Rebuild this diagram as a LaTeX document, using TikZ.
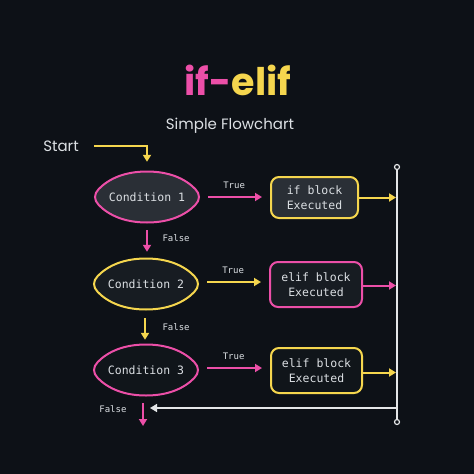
\documentclass[tikz,border=0pt]{standalone}
\usepackage{fontspec}
\setmainfont{Poppins}
\newfontfamily\monof{DejaVu Sans Mono}
\usetikzlibrary{arrows.meta,backgrounds}
\definecolor{bg}{HTML}{0D1117}
\definecolor{pk}{HTML}{EC4FA8}
\definecolor{yl}{HTML}{F5D64E}
\definecolor{tx}{HTML}{DCE0E4}
\definecolor{ln}{HTML}{E4E6E8}
\definecolor{fA}{HTML}{2A2F36}
\definecolor{fB}{HTML}{171C22}
\definecolor{fC}{HTML}{10151A}
\begin{document}
\begin{tikzpicture}[x=1pt,y=-1pt,
  conn/.style={line width=2pt,-{Triangle[length=7pt,width=8pt]}},
  cond/.style={minimum width=102pt,minimum height=50pt,inner sep=0pt,
    font=\monof\fontsize{11.5}{13}\selectfont,text=tx},
  hexs/.style={line width=2pt},
  blk/.style={draw,line width=2pt,rounded corners=8pt,align=center,inner sep=0pt,
    font=\monof\fontsize{11.5}{15}\selectfont,text=tx},
  lab/.style={font=\monof\fontsize{9}{10}\selectfont,text=tx},
  dot/.style={circle,draw=ln,fill=bg,line width=1.2pt,minimum size=5pt,inner sep=0pt}]
\begin{scope}[on background layer]
\fill[bg] (0,0) rectangle (474,474);
\end{scope}
\useasboundingbox (0,0) rectangle (474,474);

% title
\node[font=\bfseries\fontsize{38}{40}\selectfont] (title) at (238,80)
  {\textcolor{pk}{if-}\textcolor{yl}{elif}};
\node[font=\fontsize{15}{17}\selectfont,text=tx] (sub) at (230,126) {Simple Flowchart};
\node[font=\fontsize{15}{17}\selectfont,text=tx] (start) at (61,146) {Start};

% conditions
\node[cond] (c1) at (147,197) {Condition 1};
\node[cond] (c2) at (146,284) {Condition 2};
\node[cond] (c3) at (146,370) {Condition 3};
\begin{scope}[on background layer]
\foreach \n/\c/\f in {c1/pk/fA,c2/yl/fB,c3/pk/fC}
  \draw[hexs,draw=\c,fill=\f,shift={(\n.center)}]
    (-48.25,-8) .. controls (-38,-18.5) and (-22,-25.5) .. (0,-25.5)
    .. controls (22,-25.5) and (38,-18.5) .. (48.25,-8)
    .. controls (53.25,-3) and (53.25,3) .. (48.25,8)
    .. controls (38,18.5) and (22,25.5) .. (0,25.5)
    .. controls (-22,25.5) and (-38,18.5) .. (-48.25,8)
    .. controls (-53.25,3) and (-53.25,-3) .. cycle;
\end{scope}

% blocks
\node[blk,draw=yl,fill=fA,minimum width=87pt,minimum height=41pt] (b1) at (314.5,197.5) {if block\\Executed};
\node[blk,draw=pk,fill=fB,minimum width=92pt,minimum height=45pt] (b2) at (316,284.5) {elif block\\Executed};
\node[blk,draw=yl,fill=fC,minimum width=91pt,minimum height=45pt] (b3) at (316.5,370.5) {elif block\\Executed};

% bus
\node[dot] (bt) at (397,167) {};
\node[dot] (bb) at (397,422) {};
\draw[ln,line width=1.5pt] (bt) -- (bb);

% start arrow
\draw[conn,yl,shorten <=12pt,shorten >=10pt] (start.east) -| (c1.north);

% true arrows
\draw[conn,pk,shorten <=10pt,shorten >=8pt] (c1.east) -- (c1.east -| b1.west)
  node[midway,above=4pt,lab] (t1) {True};
\draw[conn,yl,shorten <=10pt,shorten >=8pt] ([yshift=2pt]c2.east) -- ([yshift=2pt]c2.east -| b2.west)
  node[midway,above=4pt,lab] (t2) {True};
\draw[conn,pk,shorten <=10pt,shorten >=8pt] ([yshift=2pt]c3.east) -- ([yshift=2pt]c3.east -| b3.west)
  node[midway,above=4pt,lab] (t3) {True};

% block -> bus
\draw[conn,yl,shorten >=1pt] (b1.east) -- (b1.east -| bt);
\draw[conn,pk,shorten >=1pt] ([yshift=-1pt]b2.east) -- ([yshift=-1pt]b2.east -| bt);
\draw[conn,yl,shorten >=1pt] ([yshift=-2pt]b3.east) -- ([yshift=-2pt]b3.east -| bt);

% false arrows
\draw[conn,pk,shorten <=8pt,shorten >=7pt] (c1.south) -- (c1.south |- c2.north);
\node[lab,anchor=west] (fl1) at (159,238) {False};
\draw[conn,yl,shorten <=9pt,shorten >=5pt] ([xshift=-1pt]c2.south) -- ([xshift=-1pt]c3.north);
\node[lab,anchor=west] (fl2) at (159,327) {False};
\coordinate (e3) at (143,426);
\draw[conn,pk,shorten <=8pt] ([xshift=-3pt]c3.south) -- (e3);
\node[lab,anchor=east] (fl3) at (130,409) {False};

% return
\coordinate (r1) at (397,408);
\coordinate (r2) at (150,408);
\draw[ln,line width=1.5pt,-{Triangle[length=7pt,width=8pt]}] (r1) -- (r2);
\end{tikzpicture}
\end{document}
